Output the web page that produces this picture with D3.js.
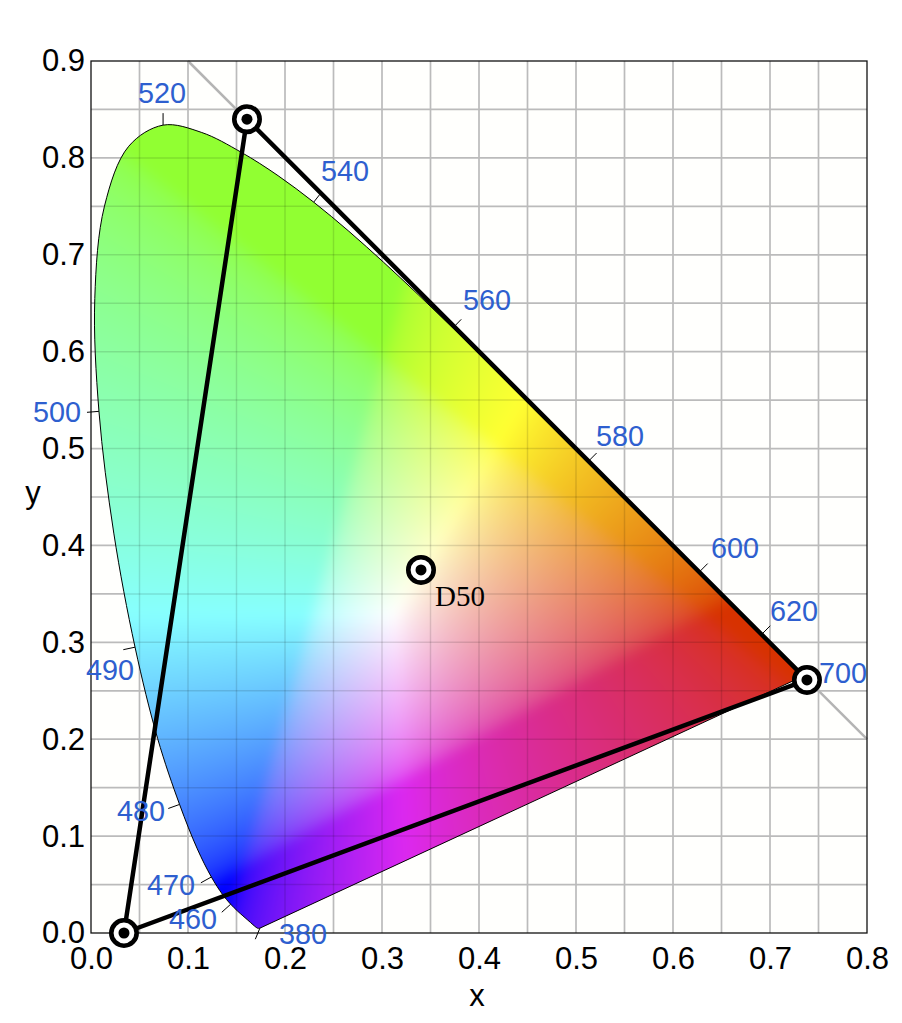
<!DOCTYPE html>
<html><head><meta charset="utf-8">
<script src="https://cdnjs.cloudflare.com/ajax/libs/d3/7.8.5/d3.min.js"></script>
<style>html,body{margin:0;padding:0;background:#fff}svg{display:block}</style>
</head><body><div id="c"></div>
<script>
// spectral locus (nm, x, y)
const wavelengths=[380,385,390,395,400,405,410,415,420,425,430,435,440,445,450,455,460,465,470,475,480,485,490,495,500,505,510,515,520,525,530,535,540,545,550,555,560,565,570,575,580,585,590,595,600,605,610,615,620,625,630,635,640,645,650,655,660,665,670,675,680,685,690,695,700];
const locusX=[.1741,.1740,.1738,.1736,.1733,.1730,.1726,.1721,.1714,.1703,.1689,.1669,.1644,.1611,.1566,.1510,.1440,.1355,.1241,.1096,.0913,.0687,.0454,.0235,.0082,.0039,.0139,.0389,.0743,.1142,.1547,.1929,.2296,.2658,.3016,.3373,.3731,.4087,.4441,.4788,.5125,.5448,.5752,.6029,.6270,.6482,.6658,.6801,.6915,.7006,.7079,.7140,.7190,.7230,.7260,.7283,.7300,.7311,.7320,.7327,.7334,.7340,.7344,.7346,.7347];
const locusY=[.0050,.0050,.0049,.0049,.0048,.0048,.0048,.0048,.0051,.0058,.0069,.0086,.0109,.0138,.0177,.0227,.0297,.0399,.0578,.0868,.1327,.2007,.2950,.4127,.5384,.6548,.7502,.8120,.8338,.8262,.8059,.7816,.7543,.7243,.6923,.6589,.6245,.5896,.5547,.5202,.4866,.4544,.4242,.3965,.3725,.3514,.3340,.3197,.3083,.2993,.2920,.2859,.2809,.2770,.2740,.2717,.2700,.2689,.2680,.2673,.2666,.2660,.2656,.2654,.2653];
const labelledWavelengths=[380,460,470,480,490,500,520,540,560,580,600,620];
const primaryX=[.1608,.7381,.0340];
const primaryY=[.8400,.2612,.0000];
const whiteX=[.3402], whiteY=[.3747], whiteLabel="D50";
const xTicks=[0,.1,.2,.3,.4,.5,.6,.7,.8];
const yTicks=[0,.1,.2,.3,.4,.5,.6,.7,.8,.9];
const gridValuesX=d3.range(1,16).map(i=>i/20);
const gridValuesY=d3.range(1,18).map(i=>i/20);
const spectrumLineX=[.1,.8], spectrumLineY=[.9,.2];

// layout
const W=902,H=1023,L=91,R=867,T=61,B=933;
const x=d3.scaleLinear().domain([0,.8]).range([L,R]);
const y=d3.scaleLinear().domain([0,.9]).range([B,T]);
const labelPos={380:[303,934],460:[193,919],470:[171,885],480:[141,811],490:[110,670],500:[57,412],520:[162,93],540:[345,171],560:[487,300],580:[620,436],600:[735,548],620:[794,611],700:[843,673]};
const tickDir={380:[-.38,.92],520:[0,-1]};

const svg=d3.select("#c").append("svg").attr("width",W).attr("height",H);
const defs=svg.append("defs");
const locusPts=wavelengths.map((w,i)=>[x(locusX[i]),y(locusY[i])]);
const smooth=d3.line().curve(d3.curveCatmullRom.alpha(.5));
const straight=d3.line().curve(d3.curveLinear);
const locusPath=smooth(locusPts)+"Z";
defs.append("clipPath").attr("id","gam").append("path").attr("d",locusPath);
defs.append("filter").attr("id","soft").attr("filterUnits","userSpaceOnUse").attr("x",0).attr("y",0).attr("width",W).attr("height",H)
  .attr("color-interpolation-filters","sRGB")
  .append("feGaussianBlur").attr("stdDeviation",6);

// colour field: corners of the sRGB cube as the picture renders them
const corners={R:[215,50,0],G:[145,255,50],B:[0,0,255],C:[135,255,255],M:[220,40,240],Y:[255,255,50],W:[255,255,255],K:[0,0,0]};
function chroma(cx,cy){
  const X=cx/cy,Y=1,Z=(1-cx-cy)/cy;
  let r= 3.2406*X-1.5372*Y-.4986*Z, g=-.9689*X+1.8758*Y+.0415*Z, b=.0557*X-.2040*Y+1.0570*Z;
  r=Math.max(r,0);g=Math.max(g,0);b=Math.max(b,0);
  const M=Math.max(r,g,b); r/=M;g/=M;b/=M;
  const f=v=>v<=.0031308?12.92*v:1.055*Math.pow(v,1/2.4)-.055;
  r=f(r);g=f(g);b=f(b);
  const out=[0,0,0];
  for(let k=0;k<3;k++){
    const lerp=(a,c,t)=>a+(c-a)*t;
    const b0=lerp(lerp(corners.K[k],corners.R[k],r),lerp(corners.G[k],corners.Y[k],r),g);
    const b1=lerp(lerp(corners.B[k],corners.M[k],r),lerp(corners.C[k],corners.W[k],r),g);
    out[k]=lerp(b0,b1,b);
  }
  return out;
}
const cv=document.createElement("canvas");cv.width=W;cv.height=H;
const ctx=cv.getContext("2d");const img=ctx.createImageData(W,H);
for(let j=0;j<H;j++)for(let i=0;i<W;i++){
  // the field runs past the plot so that the blur keeps its colours at the edge
  const cx=Math.max(.005,x.invert(i+.5)),cy=Math.max(.004,y.invert(j+.5));
  const c=chroma(cx,cy),k=(j*W+i)*4;
  img.data[k]=c[0];img.data[k+1]=c[1];img.data[k+2]=c[2];img.data[k+3]=255;
}
ctx.putImageData(img,0,0);

svg.append("rect").attr("x",L).attr("y",T).attr("width",R-L).attr("height",B-T).attr("fill","#fffffd");
function drawGrid(g){
  gridValuesX.forEach(v=>g.append("line").attr("x1",x(v)).attr("x2",x(v)).attr("y1",T).attr("y2",B));
  gridValuesY.forEach(v=>g.append("line").attr("x1",L).attr("x2",R).attr("y1",y(v)).attr("y2",y(v)));
}
drawGrid(svg.append("g").attr("stroke","#bbb").attr("stroke-width",1.7));
svg.append("g").attr("clip-path","url(#gam)").append("image").attr("href",cv.toDataURL()).attr("width",W).attr("height",H).attr("filter","url(#soft)");
drawGrid(svg.append("g").attr("stroke","#000").attr("stroke-opacity",.12).attr("stroke-width",1.5).attr("clip-path","url(#gam)"));

// spectrum line x+y=1
svg.append("line").attr("x1",x(spectrumLineX[0])).attr("y1",y(spectrumLineY[0])).attr("x2",x(spectrumLineX[1])).attr("y2",y(spectrumLineY[1])).attr("stroke","#b4b4b4").attr("stroke-width",2.5);
// frame
svg.append("rect").attr("x",L).attr("y",T).attr("width",R-L).attr("height",B-T).attr("fill","none").attr("stroke","#111").attr("stroke-width",1.3);
// locus outline
svg.append("path").attr("d",locusPath).attr("fill","none").attr("stroke","#000").attr("stroke-width",1);
// wavelength ticks: perpendicular to the locus
labelledWavelengths.forEach(w=>{
  const i=wavelengths.indexOf(w);
  const p=locusPts[i];
  let d=tickDir[w];
  if(!d){
    const a=locusPts[i-1],b=locusPts[i+1],dx=b[0]-a[0],dy=b[1]-a[1],n=Math.hypot(dx,dy);
    d=[dy/n,-dx/n];
  }
  svg.append("line").attr("x1",p[0]).attr("y1",p[1]).attr("x2",p[0]+d[0]*12).attr("y2",p[1]+d[1]*12).attr("stroke","#000").attr("stroke-width",1);
});
// gamut triangle
const tri=d3.range(3).map(i=>[x(primaryX[i]),y(primaryY[i])]);
svg.append("path").attr("d",straight(tri)+"Z").attr("fill","none").attr("stroke","#000").attr("stroke-width",4.5).attr("stroke-linejoin","round");
// wavelength labels
const sans="'Liberation Sans',Arial,sans-serif";
Object.entries(labelPos).forEach(([w,p])=>{
  svg.append("text").attr("x",p[0]).attr("y",p[1]).attr("text-anchor","middle").attr("dominant-baseline","central").attr("font-family",sans).attr("font-size",28.8).attr("fill","#2e5fcf").text(w);
});
// markers
function marker(px,py){
  svg.append("circle").attr("cx",px).attr("cy",py).attr("r",12.7).attr("fill","#fff").attr("stroke","#000").attr("stroke-width",4.6);
  svg.append("circle").attr("cx",px).attr("cy",py).attr("r",5.5).attr("fill","#000");
}
primaryX.forEach((v,i)=>marker(x(v),y(primaryY[i])));
marker(x(whiteX[0]),y(whiteY[0]));
svg.append("text").attr("x",x(whiteX[0])+14).attr("y",y(whiteY[0])+36).attr("font-family","'Liberation Serif','Times New Roman',serif").attr("font-size",29).attr("fill","#000").text(whiteLabel);
// axes
const axX=svg.append("g").attr("transform",`translate(0,${B})`).call(d3.axisBottom(x).tickValues(xTicks).tickFormat(d3.format(".1f")).tickSize(0).tickPadding(14));
const axY=svg.append("g").attr("transform",`translate(${L},0)`).call(d3.axisLeft(y).tickValues(yTicks).tickFormat(d3.format(".1f")).tickSize(0).tickPadding(6));
[axX,axY].forEach(a=>{a.select(".domain").remove();a.selectAll("text").attr("font-family",sans).attr("font-size",31).attr("fill","#000");});
svg.append("text").attr("x",477).attr("y",1006).attr("text-anchor","middle").attr("font-family",sans).attr("font-size",31).text("x");
svg.append("text").attr("x",33).attr("y",503).attr("text-anchor","middle").attr("font-family",sans).attr("font-size",31).text("y");
</script></body></html>
